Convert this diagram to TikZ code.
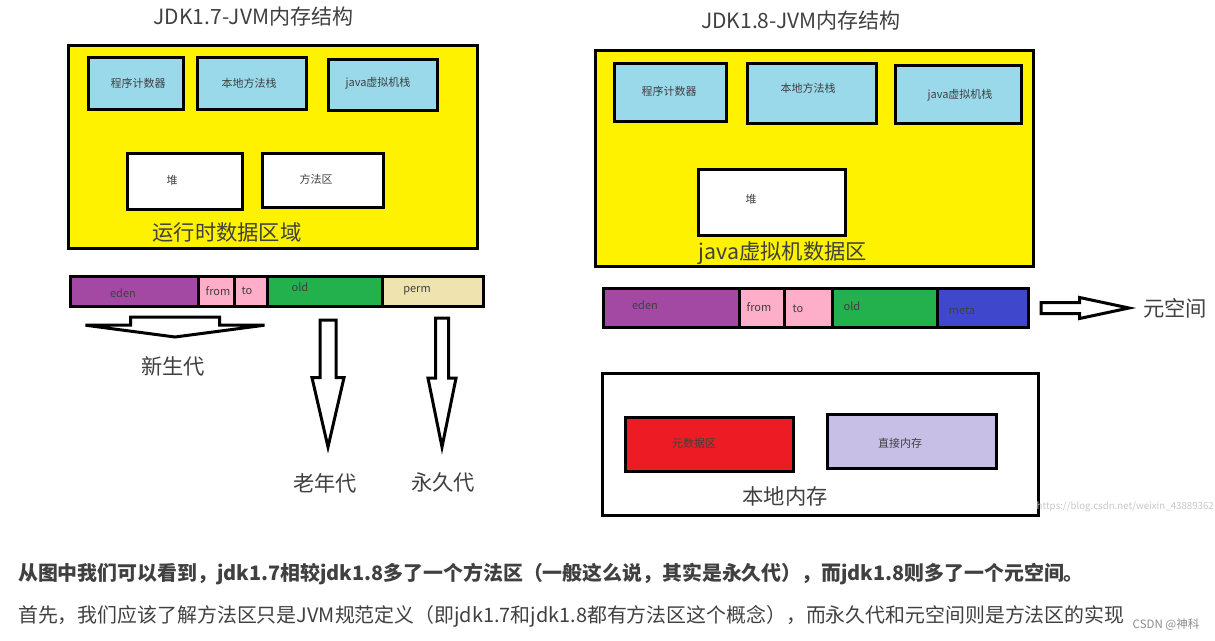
\documentclass[tikz,border=0pt]{standalone}
\usepackage{fontspec}
\setmainfont{Noto Sans CJK SC}
\usetikzlibrary{%
    shapes,%
    positioning%
}
\definecolor{stackblue}{HTML}{99D9EA}
\definecolor{areayellow}{HTML}{FFF200}
\definecolor{edenpurple}{HTML}{A349A4}
\definecolor{survivorpink}{HTML}{FFAEC9}
\definecolor{oldgreen}{HTML}{22B14C}
\definecolor{permtan}{HTML}{EFE4B0}
\definecolor{metablue}{HTML}{3F48CC}
\definecolor{metared}{HTML}{ED1C24}
\definecolor{directlilac}{HTML}{C8BFE7}
\definecolor{inktext}{HTML}{404040}
\tikzset{
    block/.style = {draw, rectangle, line width = 3pt, inner sep = 0pt, minimum
    width = #1},
    cell/.style = {block = #1, minimum height = 30pt},
    wcell/.style = {block = #1, minimum height = 39pt},
    arr/.style = {single arrow, draw, line width = 3pt, fill = white, inner xsep = 0pt,
    single arrow head indent = 0pt, anchor = tail},
    tiny/.style = {inner sep = 0pt, text = inktext, font = \fontsize{11}{13}\selectfont},
    big/.style = {inner sep = 0pt, text = inktext, font = \fontsize{21.3}{25}\selectfont},
    para/.style = {inner sep = 0pt, anchor = west, text = inktext, font = \fontsize{19.9}{24}\selectfont}
}

\begin{document}
\begin{tikzpicture}[x=1pt, y=-1pt]
    \useasboundingbox (0,0) rectangle (1215,640);

    \node[big, font = \fontsize{21}{25}\selectfont] (title7) at (253.5,17) {JDK1.7-JVM内存结构};
    \node[block = 409pt, minimum height = 203pt, fill = areayellow] (area7) at (273,147) {};
    \node[block = 95pt, minimum height = 52pt, fill = stackblue] (pc7) at (136,83.5) {};
    \node[block = 109pt, minimum height = 52pt, fill = stackblue] (native7) at (252,83.5) {};
    \node[block = 109pt, minimum height = 51pt, fill = stackblue] (vm7) at (383,85) {};
    \node[block = 115pt, minimum height = 56pt, fill = white] (heap7) at (185,181.5) {};
    \node[block = 121pt, minimum height = 54pt, fill = white] (method7) at (323,180.5) {};
    \node[tiny] (pctext7) at (138,83) {程序计数器};
    \node[tiny] (nativetext7) at (249,83) {本地方法栈};
    \node[tiny] (vmtext7) at (378,83) {java虚拟机栈};
    \node[tiny] (heaptext7) at (172,180) {堆};
    \node[tiny] (methodtext7) at (316,179) {方法区};
    \node[big] (areatext7) at (227,232) {运行时数据区域};

    \node[cell = 127.5pt, fill = edenpurple] (eden7) at (134.25,291.5) {};
    \node[cell = 36pt, fill = survivorpink, right = -3pt of eden7] (from7) {};
    \node[cell = 33pt, fill = survivorpink, right = -3pt of from7] (to7) {};
    \node[cell = 115pt, fill = oldgreen, right = -3pt of to7] (old7) {};
    \node[cell = 101.5pt, fill = permtan, right = -3pt of old7] (perm7) {};
    \node[tiny] (edentext7) at (123,293) {eden};
    \node[tiny] (fromtext7) at (218,291) {from};
    \node[tiny] (totext7) at (247,291) {to};
    \node[tiny] (oldtext7) at (300,287) {old};
    \node[tiny] (permtext7) at (417,291) {perm};

    \node[arr, rotate = -90, inner ysep = 43pt, minimum height = 20pt, minimum width = 176pt,
        single arrow head extend = 45pt, single arrow tip angle = 165] (young) at (175,315.5) {};
    \node[arr, rotate = -90, inner ysep = 6.5pt, minimum height = 127pt, minimum width = 29pt,
        single arrow head extend = 8pt, single arrow tip angle = 26] (oldarr) at (328,318.5) {};
    \node[arr, rotate = -90, inner ysep = 5pt, minimum height = 129pt, minimum width = 25pt,
        single arrow head extend = 7.5pt, single arrow tip angle = 23] (permarr) at (442,316.5) {};
    \node[big] (younglabel) at (173,366) {新生代};
    \node[big] (oldlabel) at (325,483) {老年代};
    \node[big] (permlabel) at (443,482) {永久代};

    \node[big, font = \fontsize{21}{25}\selectfont] (title8) at (801,21) {JDK1.8-JVM内存结构};
    \node[block = 438pt, minimum height = 216pt, fill = areayellow] (area8) at (814.5,158.5) {};
    \node[block = 112pt, minimum height = 58pt, fill = stackblue] (pc8) at (670.5,92.5) {};
    \node[block = 129pt, minimum height = 60pt, fill = stackblue] (native8) at (812,93.5) {};
    \node[block = 126pt, minimum height = 58pt, fill = stackblue] (vm8) at (958.5,94.5) {};
    \node[block = 147pt, minimum height = 66pt, fill = white] (heap8) at (772,202.5) {};
    \node[tiny] (pctext8) at (669,91) {程序计数器};
    \node[tiny] (nativetext8) at (808,88) {本地方法栈};
    \node[tiny] (vmtext8) at (960,95) {java虚拟机栈};
    \node[tiny] (heaptext8) at (751,199) {堆};
    \node[big] (areatext8) at (783,253) {java虚拟机数据区};

    \node[wcell = 135.5pt, fill = edenpurple] (eden8) at (671.25,308) {};
    \node[wcell = 45pt, fill = survivorpink, right = -3pt of eden8] (from8) {};
    \node[wcell = 48pt, fill = survivorpink, right = -3pt of from8] (to8) {};
    \node[wcell = 105pt, fill = oldgreen, right = -3pt of to8] (old8) {};
    \node[wcell = 91pt, fill = metablue, right = -3pt of old8] (meta8) {};
    \node[tiny] (edentext8) at (645,305) {eden};
    \node[tiny] (fromtext8) at (759,307) {from};
    \node[tiny] (totext8) at (798,309) {to};
    \node[tiny] (oldtext8) at (852,306) {old};
    \node[tiny] (metatext8) at (962,311) {meta};

    \node[arr, inner ysep = 4pt, minimum height = 88pt, minimum width = 18pt,
        single arrow head extend = 5pt, single arrow tip angle = 24] (metaarr) at (1039.5,308) {};
    \node[big] (metalabel) at (1175,308) {元空间};

    \node[block = 436pt, minimum height = 142pt, fill = white] (nativemem) at (820,444.5) {};
    \node[block = 168pt, minimum height = 54pt, fill = metared] (metadata) at (709.5,444.5) {};
    \node[block = 169pt, minimum height = 54pt, fill = directlilac] (direct) at (912,441.5) {};
    \node[tiny] (metadatatext) at (694,443) {元数据区};
    \node[tiny] (directtext) at (900,443) {直接内存};
    \node[big] (nativetext) at (785,496) {本地内存};
    \node[inner sep = 0pt, anchor = east, text = black!22, font = \fontsize{9.7}{11}\selectfont] (mark) at (1214,507) {https://blog.csdn.net/weixin\_43889362};

    \node[para] (line1) at (18,574) {\textbf{从图中我们可以看到，jdk1.7相较jdk1.8多了一个方法区（一般这么说，其实是永久代），而jdk1.8则多了一个元空间。}};
    \node[para] (line2) at (18,616) {首先，我们应该了解方法区只是JVM规范定义（即jdk1.7和jdk1.8都有方法区这个概念），而永久代和元空间则是方法区的实现};
    \node[inner sep = 0pt, text = black!45, font = \fontsize{11.5}{13}\selectfont] (csdn) at (1166,625) {CSDN @神科};
\end{tikzpicture}
\end{document}
